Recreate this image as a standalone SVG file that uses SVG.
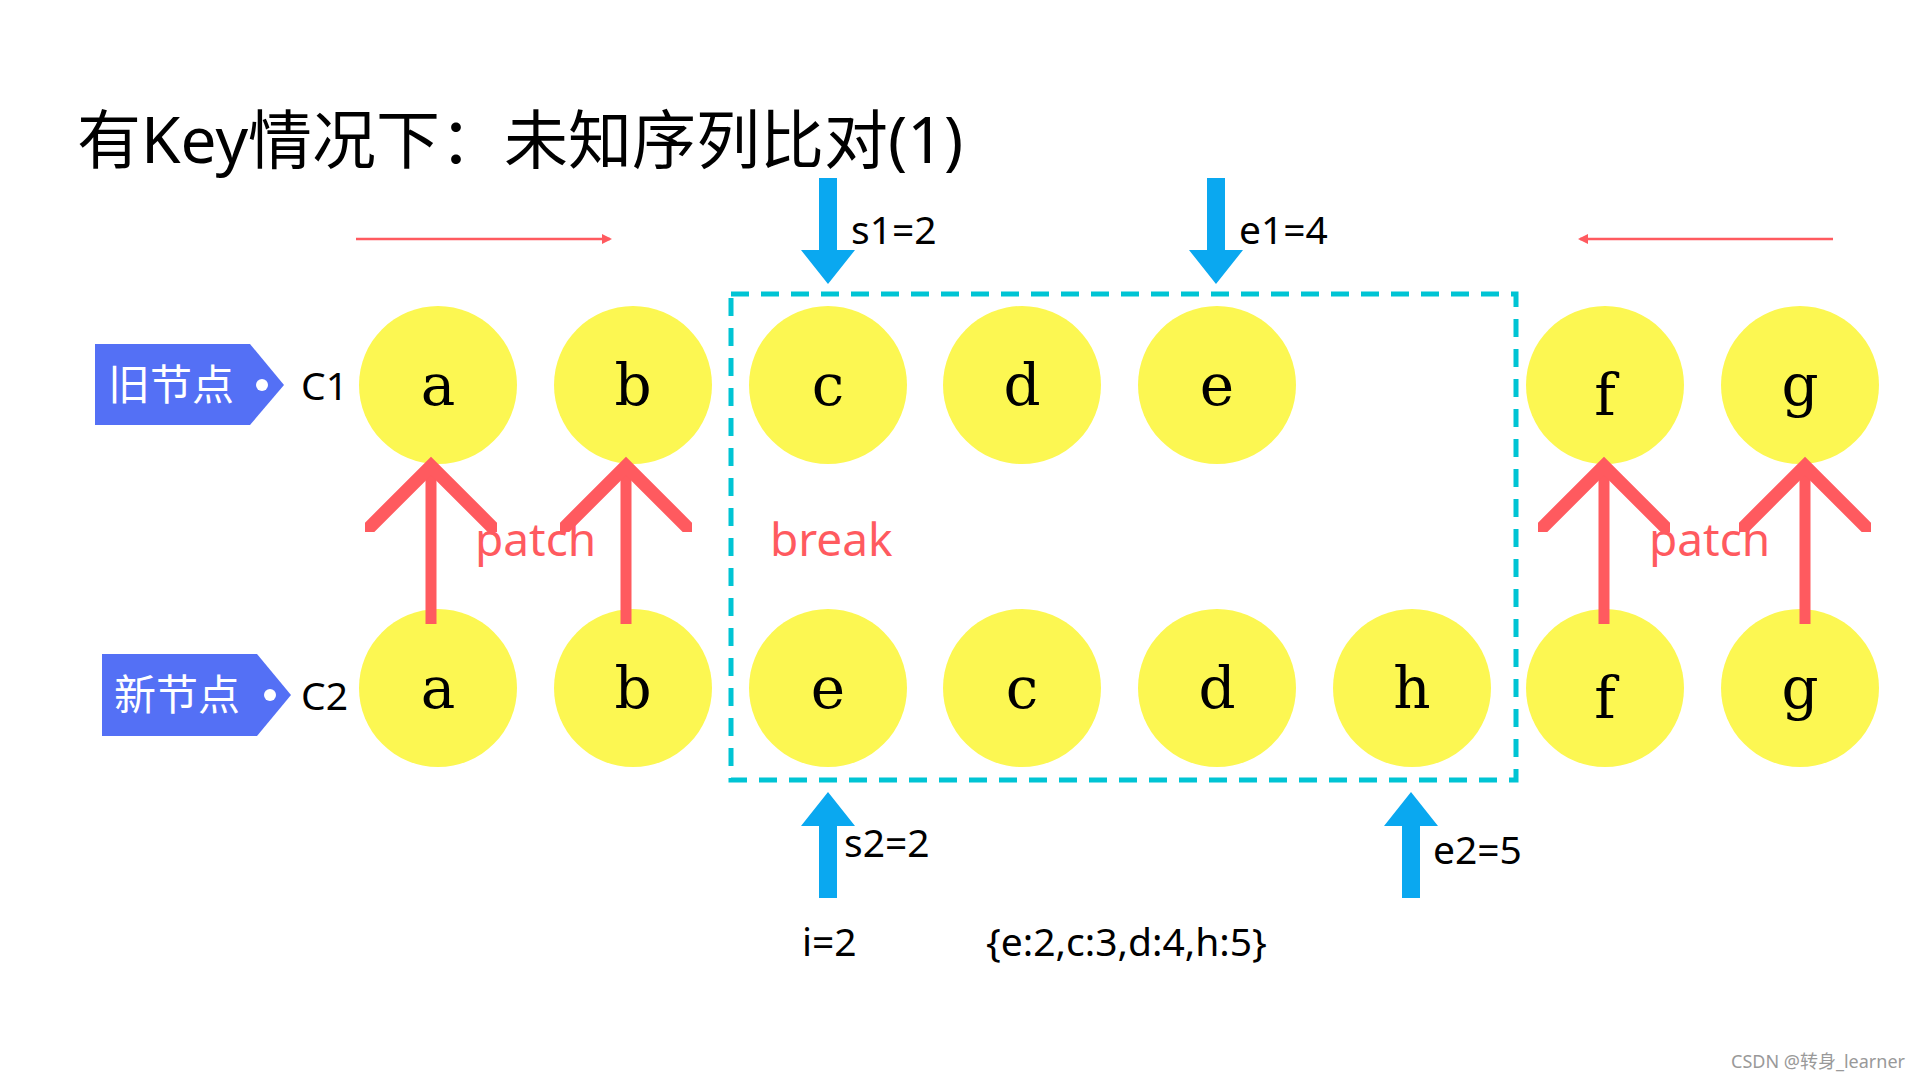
<svg xmlns="http://www.w3.org/2000/svg" width="1920" height="1080" viewBox="0 0 1920 1080">
<style>
.t{font-family:"Noto Sans","Noto Sans CJK SC",sans-serif}
.n{fill:#fcf752}
.l{font-family:"DejaVu Serif","Liberation Serif",serif;font-size:58px;text-anchor:middle;fill:#000}
.lab{font-family:"Noto Sans",sans-serif;font-size:39px;fill:#000}
.red{font-family:"Noto Sans",sans-serif;font-size:46px;fill:#ff5a5f}
.tag{fill:#5470f5}
.tt{font-family:"Noto Sans CJK SC",sans-serif;font-size:42px;fill:#fff}
</style>
<defs>
<marker id="rh" markerWidth="10" markerHeight="10" refX="8" refY="5" orient="auto" markerUnits="userSpaceOnUse"><path d="M0,0 L10,5 L0,10 Z" fill="#ff5a5f"/></marker>
<marker id="rt" markerWidth="12" markerHeight="12" refX="6" refY="6" orient="auto" markerUnits="strokeWidth"><path d="M0,0 L6,6 L0,12" fill="none" stroke="#ff5a5f" stroke-width="1.2"/></marker>
</defs>
<rect width="1920" height="1080" fill="#fff"/>
<text class="t" x="77" y="163" font-size="64" fill="#000">有Key情况下：未知序列比对(1)</text>
<rect x="731" y="294" width="785" height="486" fill="none" stroke="#00c4d4" stroke-width="5" stroke-dasharray="18,12"/>
<g id="tag1"><path class="tag" d="M95,344 H250 L284,385 L250,425 H95 Z"/><circle cx="262" cy="385" r="6" fill="#fff"/><text class="tt" x="108" y="400">旧节点</text><text class="lab" x="301" y="400" font-size="42">C1</text></g>
<g id="tag2"><path class="tag" d="M102,654 H257 L291,695 L257,736 H102 Z"/><circle cx="270" cy="695" r="6" fill="#fff"/><text class="tt" x="114" y="710">新节点</text><text class="lab" x="301" y="710" font-size="42">C2</text></g>
<g id="row1">
<g id="o-a"><circle class="n" cx="438" cy="385" r="79"/><text class="l" x="438" y="405">a</text></g>
<g id="o-b"><circle class="n" cx="633" cy="385" r="79"/><text class="l" x="633" y="405">b</text></g>
<g id="o-c"><circle class="n" cx="828" cy="385" r="79"/><text class="l" x="828" y="405">c</text></g>
<g id="o-d"><circle class="n" cx="1022" cy="385" r="79"/><text class="l" x="1022" y="405">d</text></g>
<g id="o-e"><circle class="n" cx="1217" cy="385" r="79"/><text class="l" x="1217" y="405">e</text></g>
<g id="o-f"><circle class="n" cx="1605" cy="385" r="79"/><text class="l" x="1605" y="415">f</text></g>
<g id="o-g"><circle class="n" cx="1800" cy="385" r="79"/><text class="l" x="1800" y="405">g</text></g>
</g>
<g id="row2">
<g id="n-a"><circle class="n" cx="438" cy="688" r="79"/><text class="l" x="438" y="708">a</text></g>
<g id="n-b"><circle class="n" cx="633" cy="688" r="79"/><text class="l" x="633" y="708">b</text></g>
<g id="n-e"><circle class="n" cx="828" cy="688" r="79"/><text class="l" x="828" y="708">e</text></g>
<g id="n-c"><circle class="n" cx="1022" cy="688" r="79"/><text class="l" x="1022" y="708">c</text></g>
<g id="n-d"><circle class="n" cx="1217" cy="688" r="79"/><text class="l" x="1217" y="708">d</text></g>
<g id="n-h"><circle class="n" cx="1412" cy="688" r="79"/><text class="l" x="1412" y="708">h</text></g>
<g id="n-f"><circle class="n" cx="1605" cy="688" r="79"/><text class="l" x="1605" y="718">f</text></g>
<g id="n-g"><circle class="n" cx="1800" cy="688" r="79"/><text class="l" x="1800" y="708">g</text></g>
</g>
<g id="connectors">
<line x1="356" y1="239" x2="610" y2="239" stroke="#ff5a5f" stroke-width="2.5" marker-end="url(#rh)"/>
<line x1="1833" y1="239" x2="1580" y2="239" stroke="#ff5a5f" stroke-width="2.5" marker-end="url(#rh)"/>
<g stroke="#ff5a5f" stroke-width="11" marker-end="url(#rt)">
<line x1="431" y1="624" x2="431" y2="466"/>
<line x1="626" y1="624" x2="626" y2="466"/>
<line x1="1604" y1="624" x2="1604" y2="466"/>
<line x1="1805" y1="624" x2="1805" y2="466"/>
</g>
<g fill="#0aa8f0">
<path d="M819,178 H837 V250 H855 L828,284 L801,250 H819 Z"/>
<path d="M1207,178 H1225 V250 H1243 L1216,284 L1189,250 H1207 Z"/>
<path d="M819,898 H837 V826 H855 L828,792 L801,826 H819 Z"/>
<path d="M1402,898 H1420 V826 H1438 L1411,792 L1384,826 H1402 Z"/>
</g>
</g>
<text class="lab" x="851" y="244">s1=2</text>
<text class="lab" x="1239" y="244">e1=4</text>
<text class="lab" x="844" y="857">s2=2</text>
<text class="lab" x="1433" y="864">e2=5</text>
<text class="lab" x="802" y="956">i=2</text>
<text class="lab" x="986" y="956">{e:2,c:3,d:4,h:5}</text>
<text class="red" x="475" y="556">patch</text>
<text class="red" x="770" y="556">break</text>
<text class="red" x="1649" y="556">patch</text>
<text x="1905" y="1068" text-anchor="end" font-family="Noto Sans,Noto Sans CJK SC,sans-serif" font-size="18" fill="#999">CSDN @转身_learner</text>
</svg>
